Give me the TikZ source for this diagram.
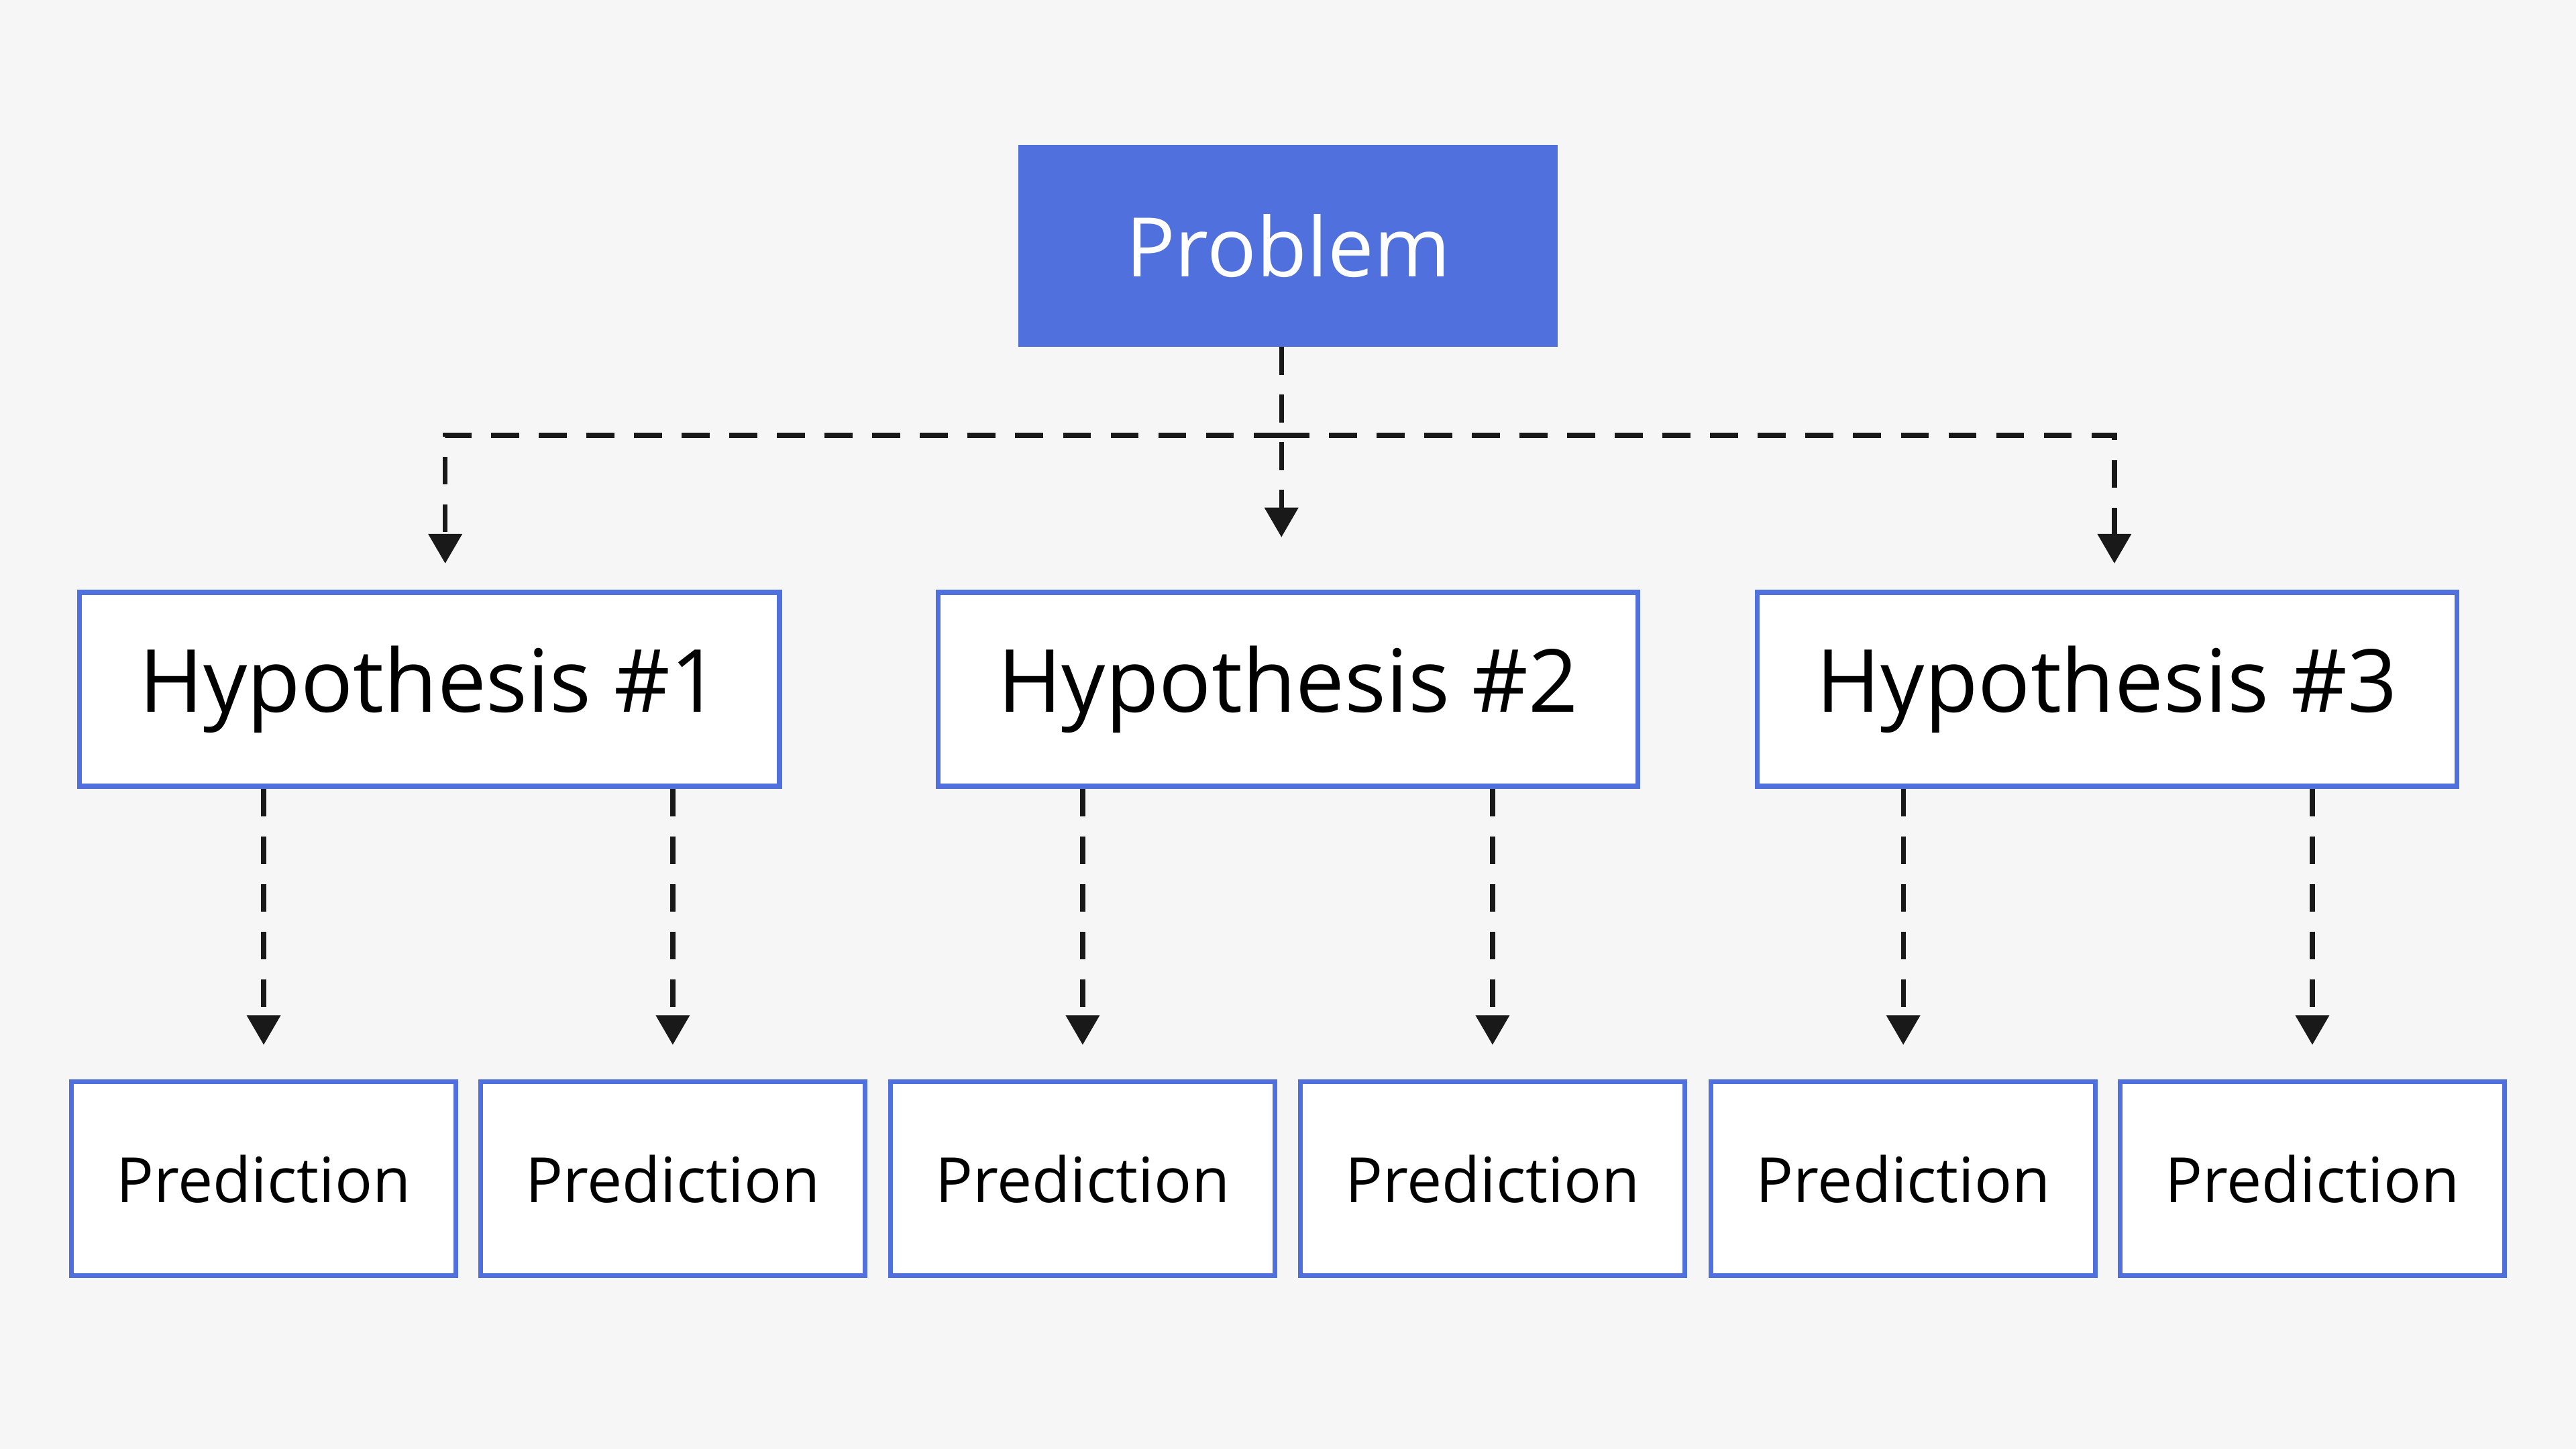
\documentclass[tikz,border=0pt]{standalone}
\usepackage{fontspec}
\setmainfont{Open Sans}
\usetikzlibrary{arrows.meta}
\definecolor{boxblue}{HTML}{5070DD}
\definecolor{bg}{HTML}{F6F6F6}
\begin{document}
\begin{tikzpicture}[x=1pt,y=-1pt,>={Triangle[length=18pt,width=20pt]},
  hyp/.style={draw=boxblue,line width=3pt,fill=white,minimum width=426pt,minimum height=118pt,inner sep=0pt,font=\fontsize{53}{60}\selectfont},
  pred/.style={draw=boxblue,line width=3pt,fill=white,minimum width=234pt,minimum height=118pt,inner sep=0pt,font=\fontsize{38}{44}\selectfont},
  link/.style={->,line width=3pt,draw=black!90,dash pattern=on 17pt off 12pt}]
  \fill[bg] (0,0) rectangle (1568,882);
  \useasboundingbox (0,0) rectangle (1568,882);
  % Node: problem
  \node[fill=boxblue,minimum width=328pt,minimum height=123pt,inner sep=0pt,text=white,font=\fontsize{50}{58}\selectfont] (prob) at (784,149.5) {Problem};
  % Nodes: hypotheses
  \node[hyp] (h1) at (261.5,419.5) {Hypothesis \#1};
  \node[hyp] (h2) at (784,419.5) {Hypothesis \#2};
  \node[hyp] (h3) at (1282.5,419.5) {Hypothesis \#3};
  % Nodes: predictions
  \foreach \n/\x in {p1/160.5,p2/409.5,p3/659,p4/908.5,p5/1158.5,p6/1407.5}
    \node[pred] (\n) at (\x,717.5) {Prediction};
  % Edges: problem -> hypotheses
  \coordinate (split) at (780,265);
  \draw[link,shorten >=32pt] (prob.south -| split) -- (split |- h2.north);
  \draw[link,shorten >=16pt] (split) -| ([xshift=9.5pt]h1.north);
  \draw[link,shorten >=16pt] (split) -| ([xshift=4.5pt]h3.north);
  % Edges: hypotheses -> predictions
  \foreach \h/\p in {h1/p1,h1/p2,h2/p3,h2/p4,h3/p5,h3/p6}
    \draw[link,shorten >=21pt] (\p.north |- \h.south) -- (\p.north);
\end{tikzpicture}
\end{document}
